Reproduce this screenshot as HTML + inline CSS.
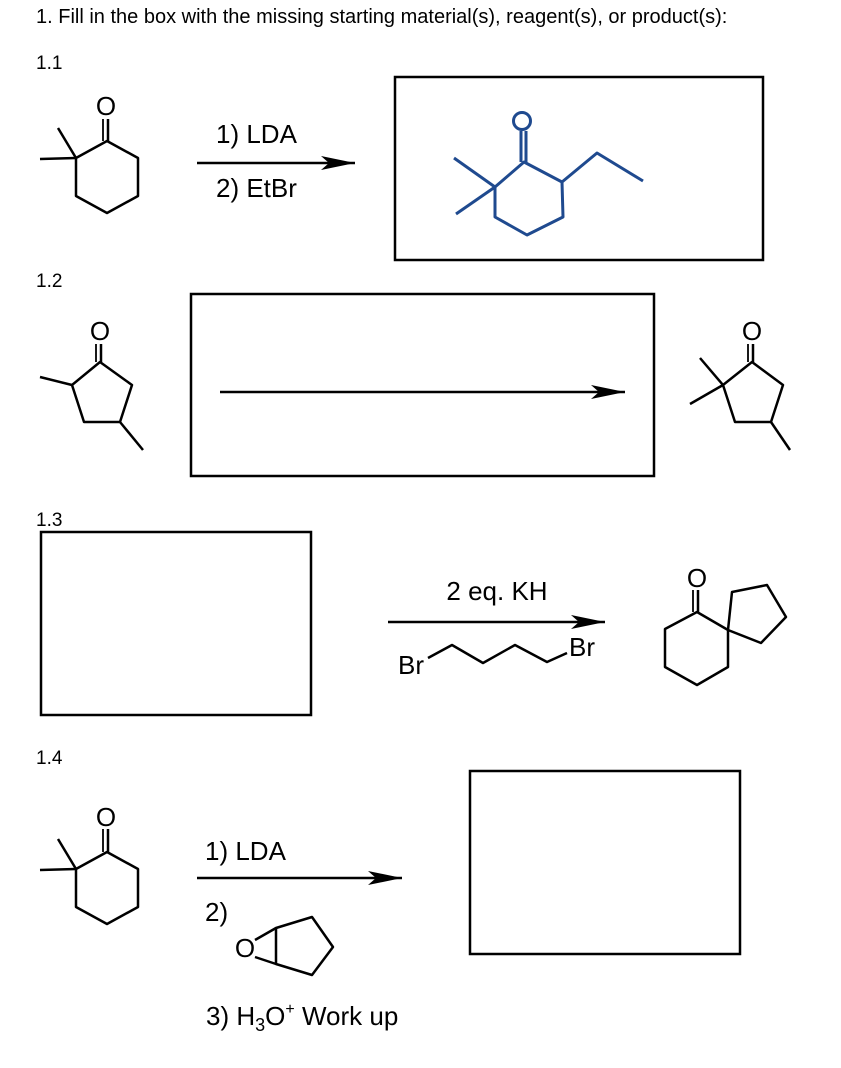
<!DOCTYPE html>
<html><head><meta charset="utf-8"><style>
html,body{margin:0;padding:0;background:#fff;}
svg{display:block;}
text{font-family:"Liberation Sans",Arial,sans-serif;fill:#000;}
</style></head><body>
<svg width="841" height="1068" viewBox="0 0 841 1068" xmlns="http://www.w3.org/2000/svg">
<defs>
<marker id="ah" viewBox="0 0 34 14" refX="34" refY="7" markerWidth="34" markerHeight="14" markerUnits="userSpaceOnUse" orient="auto">
<path d="M0,0 L34,7 L0,14 L8,7 Z" fill="#000"/>
</marker>
</defs>
<text x="36" y="23" font-size="20">1. Fill in the box with the missing starting material(s), reagent(s), or product(s):</text>
<text x="36" y="69" font-size="19">1.1</text>
<text x="36" y="287" font-size="19">1.2</text>
<text x="36" y="526" font-size="19">1.3</text>
<text x="36" y="764" font-size="19">1.4</text>

<g fill="none" stroke="#000" stroke-width="2.5">
<rect x="395" y="77" width="368" height="183"/>
<rect x="191" y="294" width="463" height="182"/>
<rect x="41" y="532" width="270" height="183"/>
<rect x="470" y="771" width="270" height="183"/>
<line x1="197" y1="163" x2="355" y2="163" marker-end="url(#ah)"/>
<line x1="220" y1="392" x2="625" y2="392" marker-end="url(#ah)"/>
<line x1="388" y1="622" x2="605" y2="622" marker-end="url(#ah)"/>
<line x1="197" y1="878" x2="402" y2="878" marker-end="url(#ah)"/>
</g>

<g fill="none" stroke="#000" stroke-width="2.5" stroke-linejoin="round">
<polygon points="107,141 138,158 138,196 107,213 76,196 76,158"/>
<line x1="76" y1="158" x2="58" y2="128"/><line x1="76" y1="158" x2="40" y2="159"/>
<line x1="108" y1="141" x2="108" y2="119"/>
<g transform="translate(0,711)">
<polygon points="107,141 138,158 138,196 107,213 76,196 76,158"/>
<line x1="76" y1="158" x2="58" y2="128"/><line x1="76" y1="158" x2="40" y2="159"/>
<line x1="108" y1="141" x2="108" y2="118"/>
</g>
<polygon points="100,362 132,385 120,422 84,422 72,385"/>
<line x1="72" y1="385" x2="40" y2="377"/><line x1="120" y1="422" x2="143" y2="450"/>
<line x1="101" y1="362" x2="101" y2="344"/>
<polygon points="752,362 783,385 771,422 735,422 723,385"/>
<line x1="723" y1="385" x2="700" y2="358"/><line x1="723" y1="385" x2="690" y2="404"/>
<line x1="771" y1="422" x2="790" y2="450"/>
<line x1="753" y1="362" x2="753" y2="344"/>
<polygon points="697,612 728,630 728,667 697,685 665,667 665,629"/>
<polygon points="728,630 732,592 767,585 786,617 761,643"/>
<line x1="698" y1="612" x2="698" y2="590"/>
<polyline points="428,658 452,645 483,663 515,645 547,662 567,653"/>
<polygon points="276,928 312,917 333,947 312,975 276,964"/>
<line x1="255" y1="940" x2="276" y2="928"/><line x1="255" y1="957" x2="276" y2="964"/>
</g>
<g fill="none" stroke="#000" stroke-width="1.8">
<line x1="103" y1="141" x2="103" y2="119"/>
<line x1="103" y1="852" x2="103" y2="829"/>
<line x1="96" y1="362" x2="96" y2="344"/>
<line x1="748" y1="362" x2="748" y2="344"/>
<line x1="693" y1="612" x2="693" y2="590"/>
</g>
<g font-size="26" text-anchor="middle">
<text x="106" y="115">O</text>
<text x="106" y="826">O</text>
<text x="100" y="340">O</text>
<text x="752" y="340">O</text>
<text x="697" y="587">O</text>
<text x="411" y="674">Br</text>
<text x="582" y="656">Br</text>
<text x="245" y="957">O</text>
</g>

<g fill="none" stroke="#1f4a8f" stroke-width="3" stroke-linejoin="round">
<polygon points="524,162 562,182 563,217 527,235 495,217 495,187"/>
<line x1="495" y1="187" x2="454" y2="158"/><line x1="495" y1="187" x2="456" y2="214"/>
<polyline points="562,182 597,153 643,181"/>
<line x1="521" y1="162" x2="521" y2="131"/><line x1="526" y1="162" x2="526" y2="131"/>
<circle cx="522" cy="121" r="8.5"/>
</g>

<g font-size="26">
<text x="216" y="143">1) LDA</text>
<text x="216" y="197">2) EtBr</text>
<text x="497" y="600" text-anchor="middle">2 eq. KH</text>
<text x="205" y="860">1) LDA</text>
<text x="205" y="921">2)</text>
<text x="206" y="1025">3) H<tspan font-size="18" dy="6">3</tspan><tspan dy="-6">O</tspan><tspan font-size="16" dy="-11">+</tspan><tspan dy="11"> Work up</tspan></text>
</g>
</svg>
</body></html>
